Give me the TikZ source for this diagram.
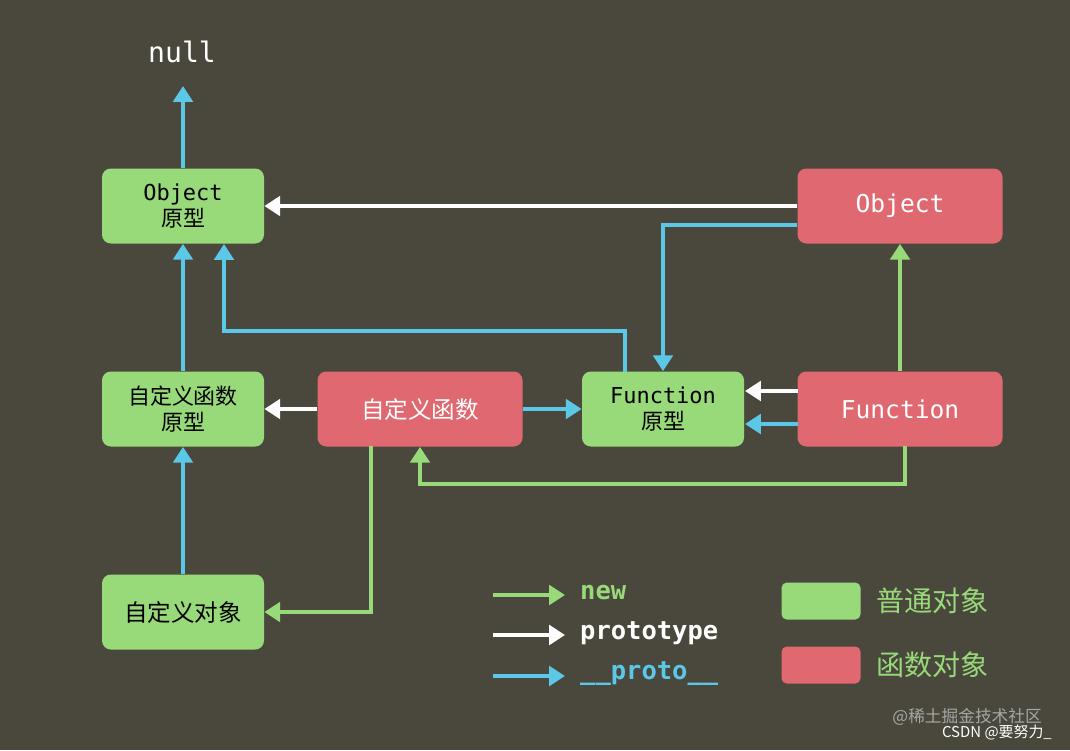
\documentclass[tikz,border=0pt]{standalone}
\usepackage{fontspec}
\setmainfont{DejaVu Sans Mono}
\newfontfamily\cjk{Noto Sans CJK SC}
\usetikzlibrary{arrows.meta}
\definecolor{bg}{HTML}{4A483C}
\definecolor{gbox}{HTML}{98D97A}
\definecolor{rbox}{HTML}{E06870}
\definecolor{bl}{HTML}{5BC8E8}
\definecolor{gl}{HTML}{98D97A}
\begin{document}
\begin{tikzpicture}[x=0.02cm,y=-0.02cm,
  box/.style={rounded corners=5pt,minimum width=162*0.02cm,minimum height=75*0.02cm,inner sep=0pt,align=center,font=\fontsize{12.5}{15}\selectfont},
  gb/.style={box,fill=gbox,text=black},
  rb/.style={box,fill=rbox,text=white,minimum width=205*0.02cm},
  ar/.style={line width=2.8pt,-{Triangle[length=9pt,width=11pt]}},
  b/.style={ar,draw=bl}, w/.style={ar,draw=white}, g/.style={ar,draw=gl}]
\fill[bg] (0,0) rectangle (1070,750);
\useasboundingbox (0,0) rectangle (1070,750);
\node[text=white,font=\fontsize{16}{18}\selectfont] (null) at (182,52) {null};
\node[gb] (op) at (183,206) {Object\\{\cjk 原型}};
\node[rb,font=\fontsize{14}{16}\selectfont] (obj) at (900,206) {Object};
\node[gb] (cfp) at (183,409) {{\cjk 自定义函数}\\{\cjk 原型}};
\node[rb,font=\cjk\fontsize{13.4}{16}\selectfont] (cf) at (420,409) {自定义函数};
\node[gb] (fp) at (663,409) {Function\\{\cjk 原型}};
\node[rb,font=\fontsize{14}{16}\selectfont] (fn) at (900,409) {Function};
\node[gb,font=\cjk\fontsize{13.4}{16}\selectfont] (co) at (183,612) {自定义对象};
\coordinate (nullb) at (183,86);
\draw[b] (op.north) -- (nullb);
\draw[w] (obj.west) -- (op.east);
\draw[b] (obj.west |- 0,225) -- (663,225) -- (fp.north);
\draw[b] (625,372) -- (625,331) -- (224,331) -- (224,244);
\draw[b] (cfp.north) -- (op.south);
\draw[w] (cf.west) -- (cfp.east);
\draw[b] (cf.east) -- (fp.west);
\draw[w] (798,391) -- (745,391);
\draw[b] (798,424) -- (745,424);
\draw[g] (fn.north) -- (obj.south);
\draw[g] (905,446) -- (905,484) -- (420,484) -- (cf.south);
\draw[g] (371,446) -- (371,612) -- (co.east);
\draw[b] (co.north) -- (cfp.south);
% legend
\coordinate (l1a) at (493,595); \coordinate (l1b) at (565,595);
\coordinate (l2a) at (493,635); \coordinate (l2b) at (565,635);
\coordinate (l3a) at (493,676); \coordinate (l3b) at (565,676);
\draw[g] (l1a) -- (l1b); \draw[w] (l2a) -- (l2b); \draw[b] (l3a) -- (l3b);
\node[anchor=west,text=gl,font=\bfseries\fontsize{14.5}{16}\selectfont] (t1) at (574,593) {new};
\node[anchor=west,text=white,font=\bfseries\fontsize{14.5}{16}\selectfont] (t2) at (574,633) {prototype};
\node[anchor=west,text=bl,font=\bfseries\fontsize{14.5}{16}\selectfont] (t3) at (574,674) {\_\_proto\_\_};
\node[fill=gbox,rounded corners=3pt,minimum width=79*0.02cm,minimum height=37*0.02cm] (k1) at (821,601) {};
\node[fill=rbox,rounded corners=3pt,minimum width=79*0.02cm,minimum height=37*0.02cm] (k2) at (821,665) {};
\node[anchor=west,text=gl,font=\cjk\fontsize{16}{18}\selectfont] (k1t) at (870,601) {普通对象};
\node[anchor=west,text=gl,font=\cjk\fontsize{16}{18}\selectfont] (k2t) at (870,665) {函数对象};
\node[anchor=east,text=gray!70,font=\cjk\fontsize{9.5}{10}\selectfont] (wm1) at (1048,717) {@稀土掘金技术社区};
\node[anchor=east,text=white!85,font=\cjk\fontsize{8.5}{10}\selectfont] (wm2) at (1058,732) {CSDN @要努力\_};
\end{tikzpicture}
\end{document}
